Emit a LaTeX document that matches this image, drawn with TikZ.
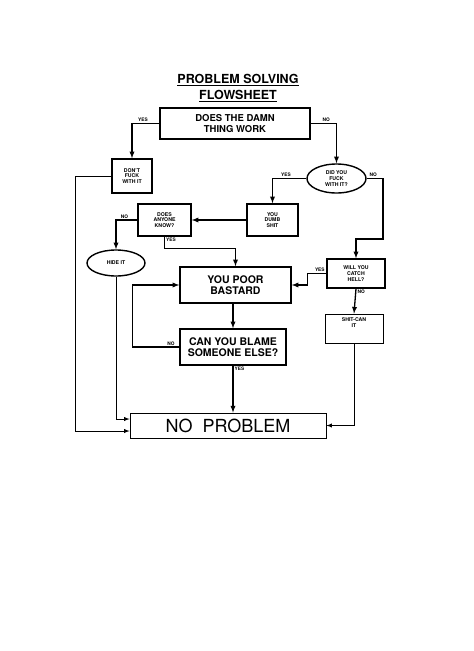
\documentclass[tikz,border=0pt]{standalone}
\usepackage{fontspec}
\setmainfont{TeX Gyre Heros}
\usetikzlibrary{shapes.geometric}

\tikzset{
    box/.style={draw, line width=1.4pt, inner sep=0pt, align=center,
        font=\bfseries\fontsize{5.2}{5.7}\selectfont},
    oval/.style={box, ellipse},
    answer/.style={font=\bfseries\fontsize{4.8}{5}\selectfont, inner sep=1pt}
}

\begin{document}
\begin{tikzpicture}[x=1pt, y=-1pt, >=latex, line width=1.3pt]
    \useasboundingbox[fill=white] (0,0) rectangle (474,651);
    % title
    \node[font=\bfseries\fontsize{12.5}{13}\selectfont] (title) at (238,80) {\underline{PROBLEM SOLVING}};
    \node[font=\bfseries\fontsize{12.5}{13}\selectfont] (sheet) at (238,96) {\underline{FLOWSHEET}};
    % boxes
    \node[box,
    minimum width = 150,
    minimum height = 31,
    font=\bfseries\fontsize{9.5}{10.5}\selectfont] (work) at (235,123.5) {DOES THE DAMN\\THING WORK};
    \node[box,
    minimum width = 40,
    minimum height = 34] (dont) at (132,176) {DON'T\\FUCK\\WITH IT};
    \node[oval,
    minimum width = 59,
    minimum height = 29] (did) at (336.5,178.5) {DID YOU\\FUCK\\WITH IT?};
    \node[box,
    minimum width = 51,
    minimum height = 32] (dumb) at (272.5,220) {YOU\\DUMB\\SHIT};
    \node[box,
    minimum width = 53,
    minimum height = 32] (anyone) at (164.5,220) {DOES\\ANYONE\\KNOW?};
    \node[oval,
    minimum width = 58,
    minimum height = 26] (hide) at (116,263) {HIDE IT};
    \node[box,
    minimum width = 111,
    minimum height = 36,
    font=\bfseries\fontsize{10.5}{11.5}\selectfont] (poor) at (235.5,285) {YOU POOR\\BASTARD};
    \node[box,
    minimum width = 106,
    minimum height = 36,
    font=\bfseries\fontsize{10.5}{11.5}\selectfont] (blame) at (233,347) {CAN YOU BLAME\\SOMEONE ELSE?};
    \node[box,
    minimum width = 58,
    minimum height = 29] (hell) at (356,273.5) {WILL YOU\\CATCH\\HELL?};
    \node[box,
    line width = 0.8pt,
    minimum width = 58,
    minimum height = 29] (shitcan) at (354,328.5) {SHIT-CAN\\IT\\[6pt]};
    \node[box,
    line width = 0.8pt,
    minimum width = 196,
    minimum height = 25,
    font=\fontsize{18}{20}\selectfont] (noprob) at (228,425.5) {NO\ \ PROBLEM};
    % connectors
    \draw[->] (work.west) -| node[answer, pos=.3, above] {YES} (dont.north);
    \draw[->] (work.east) -| node[answer, pos=.3, above] {NO} (did.north);
    \draw[->] (did.west) -| node[answer, pos=.3, above] {YES} (dumb.north);
    \draw[->] (did.east) -| node[answer, pos=.2, above] {NO} (383,239) -| (hell.north);
    \draw[->] (dumb.west) -- (anyone.east);
    \draw[->] (anyone.west) -| node[answer, pos=.3, above] {NO} (hide.north);
    \draw[->] (anyone.south) node[answer, below right] {YES} -- ++(0,12) -| (poor.north);
    \draw[->] (blame.north |- poor.south) -- (blame.north);
    \draw[->] (blame.west) node[answer, above left, xshift=-3pt] {NO} -- ++(-47,0) |- (poor.west);
    \draw[->] (blame.south) node[answer, below right] {YES} -- (blame.south |- noprob.north);
    \draw[->] (hell.west) node[answer, above left] {YES} -- ++(-19,0) |- (poor.east);
    \draw[->] (hell.south) node[answer, below right] {NO} -- (shitcan.north);
    \draw[->, line width=0.9pt] (shitcan.south) |- (noprob.east);
    \draw[->, line width=0.9pt] (dont.west) -- ++(-36,0) |- ([yshift=-5.5pt]noprob.west);
    \draw[->, line width=0.9pt] (hide.south) |- ([yshift=6.5pt]noprob.west);
\end{tikzpicture}
\end{document}
